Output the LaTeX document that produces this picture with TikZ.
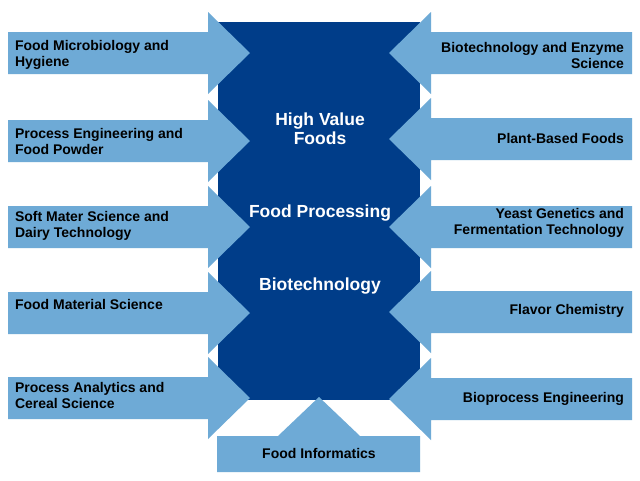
\documentclass[tikz,border=0pt]{standalone}
\usepackage{fontspec}
\setsansfont{Liberation Sans}
\definecolor{arrowblue}{RGB}{110,170,214}
\definecolor{coreblue}{RGB}{0,61,137}
\tikzset{%
    block/.style={fill=arrowblue},
    core/.style={fill=coreblue},
    field/.style={inner sep=0pt,outer sep=0pt,text=black,font=\sffamily\bfseries\fontsize{14}{16}\selectfont},
    topic/.style={inner sep=0pt,outer sep=0pt,text=white,align=center,font=\sffamily\bfseries\fontsize{17.5}{19}\selectfont},
}

\begin{document}
\begin{tikzpicture}[x=1pt,y=-1pt]
        \useasboundingbox[fill=white] (0,0) rectangle (640,480);
        \fill[core] (218,22) rectangle (420,400);

        % left arrows
        \fill[block] (8,32) -- (208,32) -- (208,12) -- (250,53) -- (208,94) -- (208,74) -- (8,74) -- cycle;
        \fill[block] (8,120) -- (208,120) -- (208,100) -- (250,141) -- (208,182) -- (208,162) -- (8,162) -- cycle;
        \fill[block] (8,206) -- (208,206) -- (208,186) -- (250,227) -- (208,268) -- (208,248) -- (8,248) -- cycle;
        \fill[block] (8,292) -- (208,292) -- (208,272) -- (250,313) -- (208,354) -- (208,334) -- (8,334) -- cycle;
        \fill[block] (8,377) -- (208,377) -- (208,357) -- (250,398) -- (208,439) -- (208,419) -- (8,419) -- cycle;

        % right arrows
        \fill[block] (632,32) -- (431,32) -- (431,12) -- (389,53) -- (431,94) -- (431,74) -- (632,74) -- cycle;
        \fill[block] (632,118) -- (431,118) -- (431,98) -- (389,139) -- (431,180) -- (431,160) -- (632,160) -- cycle;
        \fill[block] (632,206) -- (431,206) -- (431,186) -- (389,227) -- (431,268) -- (431,248) -- (632,248) -- cycle;
        \fill[block] (632,291) -- (431,291) -- (431,271) -- (389,312) -- (431,353) -- (431,333) -- (632,333) -- cycle;
        \fill[block] (632,378) -- (431,378) -- (431,358) -- (389,399) -- (431,440) -- (431,420) -- (632,420) -- cycle;

        % bottom arrow
        \fill[block] (217,472) -- (420,472) -- (420,436) -- (360,436) -- (319,397) -- (278,436) -- (217,436) -- cycle;

        \node[topic] (nodeHigh) at (320,129) {High Value\\Foods};
        \node[topic] (nodeProc) at (320,213) {Food Processing};
        \node[topic] (nodeBio) at (320,286) {Biotechnology};

        \node[field,anchor=west,align=left] (nodeMicro) at (15,55) {Food Microbiology and\\Hygiene};
        \node[field,anchor=west,align=left] (nodeEng) at (15,141) {Process Engineering and\\Food Powder};
        \node[field,anchor=west,align=left] (nodeSoft) at (15,226) {Soft Mater Science and\\Dairy Technology};
        \node[field,anchor=west,align=left] (nodeMat) at (15,304) {Food Material Science};
        \node[field,anchor=west,align=left] (nodeCereal) at (15,395) {Process Analytics and\\Cereal Science};

        \node[field,anchor=east,align=right] (nodeEnzyme) at (624,55) {Biotechnology and Enzyme\\Science};
        \node[field,anchor=east,align=right] (nodePlant) at (624,138) {Plant-Based Foods};
        \node[field,anchor=east,align=right] (nodeYeast) at (624,223) {Yeast Genetics and\\Fermentation Technology};
        \node[field,anchor=east,align=right] (nodeFlavor) at (624,311) {Flavor Chemistry};
        \node[field,anchor=east,align=right] (nodeBioproc) at (624,399) {Bioprocess Engineering};

        \node[field] (nodeInfo) at (319,453) {Food Informatics};
    \end{tikzpicture}
\end{document}
